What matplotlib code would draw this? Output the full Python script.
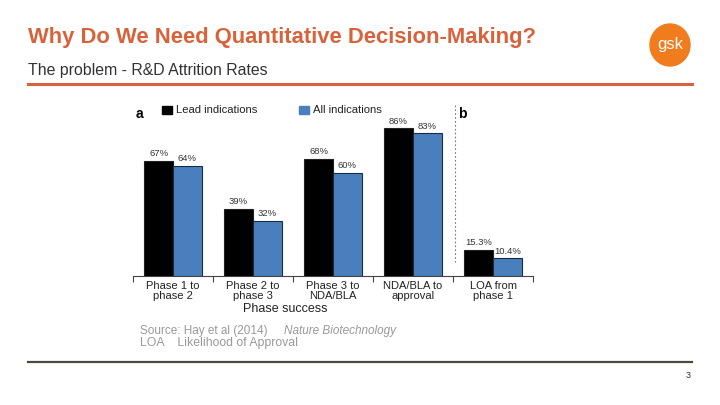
import matplotlib
matplotlib.use("Agg")
import matplotlib.pyplot as plt
from matplotlib.patches import Ellipse, Rectangle
import numpy as np

categories = ["Phase 1 to\nphase 2", "Phase 2 to\nphase 3", "Phase 3 to\nNDA/BLA",
              "NDA/BLA to\napproval", "LOA from\nphase 1"]
lead = [67, 39, 68, 86, 15.3]
all_ind = [64, 32, 60, 83, 10.4]
lead_labels = ["67%", "39%", "68%", "86%", "15.3%"]
all_labels = ["64%", "32%", "60%", "83%", "10.4%"]

plt.rcParams['font.family'] = ['Liberation Sans', 'DejaVu Sans']

W, H = 720, 405
fig = plt.figure(figsize=(7.2, 4.05), dpi=100)
fig.patch.set_facecolor("white")

def fx(px):
    return px / W

def fy(py):
    return 1 - py / H

orange = "#D9623B"
# Header
fig.text(fx(28), fy(37), "Why Do We Need Quantitative Decision-Making?", color=orange,
         fontsize=15.8, fontweight="bold", va="center", ha="left")
fig.text(fx(28), fy(70), "The problem - R&D Attrition Rates", color="#333333",
         fontsize=11.4, va="center", ha="left")
fig.add_artist(plt.Line2D([fx(28), fx(692)], [fy(84), fy(84)], color=orange, lw=2.2))
fig.add_artist(plt.Line2D([fx(28), fx(692)], [fy(362), fy(362)], color="#4a4a40", lw=1.6))
fig.text(fx(688), fy(375), "3", color="#333333", fontsize=6.5, ha="center", va="center")

# GSK logo
logo = Ellipse((fx(670), fy(45)), fx(40), 42 / H, color="#F07C1E", transform=fig.transFigure)
fig.add_artist(logo)
fig.text(fx(670), fy(44), "gsk", color="white", fontsize=12, ha="center", va="center")

# Chart axes
ax_left, ax_right, ax_bottom, ax_top = 133, 533, 276, 104
ax = fig.add_axes([fx(ax_left), fy(ax_bottom), fx(ax_right - ax_left), (ax_bottom - ax_top) / H])
ax.set_xlim(-0.5, 4.5)
ax.set_ylim(0, 100)
x = np.arange(len(categories))
w = 0.36
blue = "#4A7FBD"
ax.bar(x - w / 2, lead, w, color="black", edgecolor="#222222", linewidth=0.8)
ax.bar(x + w / 2, all_ind, w, color=blue, edgecolor="#1a2a40", linewidth=0.8)
for i in range(len(x)):
    ax.text(x[i] - w / 2, lead[i] + 1.5, lead_labels[i], ha="center", va="bottom",
            fontsize=6.8, color="#333333")
    ax.text(x[i] + w / 2, all_ind[i] + 1.5, all_labels[i], ha="center", va="bottom",
            fontsize=6.8, color="#333333")

for s in ["top", "right", "left"]:
    ax.spines[s].set_visible(False)
ax.spines["bottom"].set_color("#444444")
ax.spines["bottom"].set_linewidth(0.8)
ax.set_yticks([])
ax.set_xticks([-0.5, 0.5, 1.5, 2.5, 3.5, 4.5])
ax.set_xticklabels([])
ax.tick_params(axis="x", length=4, color="#444444", direction="out")
for i, c in enumerate(categories):
    ax.text(x[i], -3.0, c, ha="center", va="top", fontsize=8, color="#222222",
            linespacing=1.0, transform=ax.transData)
ax.patch.set_alpha(0)

# Dotted separator
fig.add_artist(plt.Line2D([fx(455), fx(455)], [fy(105), fy(262)], color="#777777",
                          lw=0.8, ls=(0, (1.5, 2))))

# Panel letters and legend
fig.text(fx(136), fy(114), "a", fontsize=10, fontweight="bold", va="center", ha="left")
fig.text(fx(458), fy(114), "b", fontsize=10, fontweight="bold", va="center", ha="left")
fig.add_artist(Rectangle((fx(162), fy(114)), fx(10), 8 / H, color="black", transform=fig.transFigure))
fig.text(fx(176), fy(110), "Lead indications", fontsize=8.1, va="center", ha="left", color="#222222")
fig.add_artist(Rectangle((fx(299), fy(114)), fx(10), 8 / H, color=blue, transform=fig.transFigure))
fig.text(fx(313), fy(110), "All indications", fontsize=8.1, va="center", ha="left", color="#222222")

fig.text(fx(285), fy(309), "Phase success", fontsize=9, ha="center", va="center", color="#222222")

# Source
fig.text(fx(140), fy(331), "Source: Hay et al (2014) ", fontsize=8.5, ha="left", va="center", color="#999999")
fig.text(fx(284), fy(331), "Nature Biotechnology", fontsize=8.5, ha="left", va="center",
         color="#999999", style="italic")
fig.text(fx(140), fy(343), "LOA    Likelihood of Approval", fontsize=8.8, ha="left", va="center",
         color="#999999")

fig.savefig("out.png", dpi=100, facecolor="white")
